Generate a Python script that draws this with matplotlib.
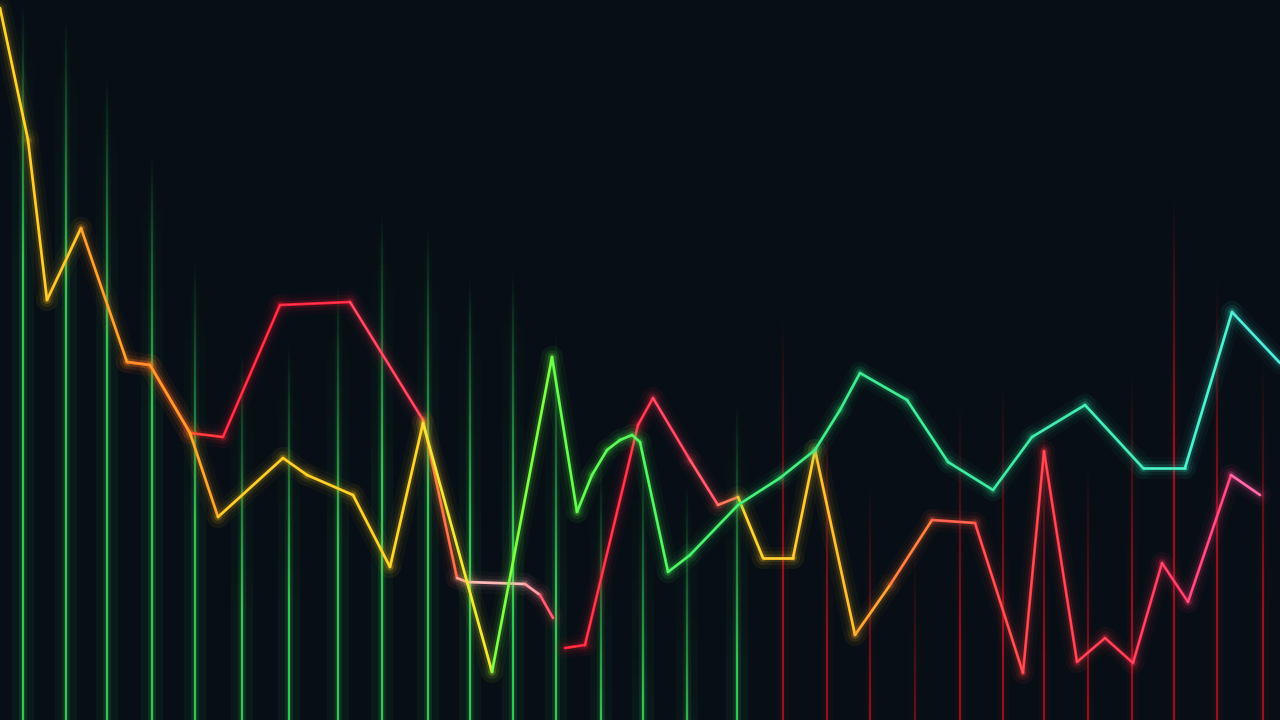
import numpy as np
import matplotlib
matplotlib.use("Agg")
import matplotlib.pyplot as plt
from matplotlib.collections import LineCollection
from matplotlib.colors import LinearSegmentedColormap, to_rgba

# vertical "volume" lines: x position and height of top
bar_x = [23, 66, 107, 152, 195, 242, 289, 338, 382, 428, 470, 513, 556, 601, 643, 687, 737,
         783, 827, 870, 915, 960, 1003, 1044, 1088, 1132, 1174, 1217, 1263]
bar_top = [720, 705, 645, 570, 460, 370, 380, 440, 510, 495, 447, 453, 390, 260, 280, 240, 320,
           410, 330, 250, 180, 330, 350, 320, 270, 360, 535, 450, 370]
bar_up = [True] * 17 + [False] * 12

# line 1: yellow -> green -> cyan
a_x = [0, 28, 47, 81, 127, 150, 190, 218, 283, 307, 353, 390, 423, 492, 552, 577, 592, 607, 620,
       632, 640, 668, 690, 738, 780, 815, 840, 860, 907, 948, 993, 1032, 1085, 1143, 1185, 1232, 1280]
a_v = [712, 580, 420, 492, 358, 355, 287, 203, 262, 245, 225, 153, 297, 48, 363, 208, 245, 270, 280,
       285, 278, 148, 165, 215, 242, 270, 310, 347, 320, 258, 230, 283, 315, 252, 252, 408, 357]

# line 2: red, left part
b_x = [127, 150, 190, 223, 280, 350, 423, 457, 467, 525, 540, 553]
b_v = [358, 355, 287, 283, 415, 418, 300, 142, 138, 136, 125, 102]

# line 3: red -> yellow -> red
c_x = [565, 585, 638, 653, 690, 718, 738, 763, 793, 815, 855, 890, 932, 975, 1023, 1044, 1077,
       1105, 1133, 1162, 1188, 1231, 1260]
c_v = [72, 75, 295, 322, 260, 215, 223, 162, 162, 270, 85, 135, 200, 197, 47, 269, 58, 82, 57,
       157, 118, 245, 225]

BG = '#070e15'


def stops_cmap(stops):
    lo, hi = stops[0][0], stops[-1][0]
    return LinearSegmentedColormap.from_list(
        'g', [((s - lo) / (hi - lo), c) for s, c in stops]), lo, hi


def glow_line(ax, xs, vs, stops, lw=2.0):
    cmap, lo, hi = stops_cmap(stops)
    xs = np.asarray(xs, float)
    vs = np.asarray(vs, float)
    pts = np.column_stack([xs, vs])
    segs = np.stack([pts[:-1], pts[1:]], axis=1)
    mid = (xs[:-1] + xs[1:]) / 2
    cols = cmap(np.clip((mid - lo) / (hi - lo), 0, 1))
    # soft glow layers
    for w, a in [(16, 0.035), (10, 0.06), (5.5, 0.13)]:
        c = cols.copy()
        c[:, 3] = a
        ax.add_collection(LineCollection(segs, colors=c, linewidths=w,
                                         capstyle='round', joinstyle='round'))
    ax.add_collection(LineCollection(segs, colors=cols, linewidths=lw,
                                     capstyle='round', joinstyle='round'))
    # thin bright core
    core = cols.copy()
    core[:, :3] = core[:, :3] * 0.6 + 0.4
    core[:, 3] = 0.35
    ax.add_collection(LineCollection(segs, colors=core, linewidths=lw * 0.4,
                                     capstyle='round'))


fig = plt.figure(figsize=(12.8, 7.2), dpi=100, facecolor=BG)
ax = fig.add_axes([0, 0, 1, 1])
ax.set_facecolor(BG)
ax.set_xlim(0, 1280)
ax.set_ylim(0, 720)
ax.axis('off')

# vertical lines fading towards the top
ys = np.linspace(0, 720, 145)
for x, top, up in zip(bar_x, bar_top, bar_up):
    base = to_rgba('#3ad45a' if up else '#b8121e')
    yy = ys[ys <= top]
    if len(yy) < 2:
        continue
    segs = [[(x, yy[i]), (x, yy[i + 1])] for i in range(len(yy) - 1)]
    ym = (yy[:-1] + yy[1:]) / 2
    fade = np.clip((top - ym) / 260.0, 0, 1) ** 1.1
    layers = [(16, 0.05), (6, 0.12), (1.7, 0.9)] if up else [(8, 0.06), (1.6, 0.8)]
    for w, a in layers:
        c = np.tile(base, (len(ym), 1))
        c[:, 3] = fade * a
        ax.add_collection(LineCollection(segs, colors=c, linewidths=w))

glow_line(ax, b_x, b_v, [(127, '#ff6a2a'), (190, '#ff3a30'), (223, '#ff1c34'),
                         (350, '#ff1c3a'), (410, '#ff4a66'), (440, '#ff5a3a'),
                         (470, '#ffb0b0'), (525, '#ffb8b8'), (553, '#ff3a50')])
glow_line(ax, c_x, c_v, [(565, '#ff1c30'), (650, '#ff2a44'), (690, '#ff4a6a'),
                         (725, '#ff5a50'), (745, '#ffd020'), (815, '#ffc422'),
                         (860, '#ffaa22'), (905, '#ff7a30'), (950, '#ff5a40'),
                         (1010, '#ff3a40'), (1120, '#ff3048'), (1200, '#ff3068'),
                         (1260, '#ff6ab0')])
glow_line(ax, a_x, a_v, [(0, '#ffd21a'), (60, '#ffc21a'), (100, '#ff9a1c'), (140, '#ff801c'),
                         (200, '#ffa01a'), (240, '#ffc81a'), (420, '#ffd21a'),
                         (470, '#e8ee28'), (530, '#60ff3a'), (700, '#3cf060'),
                         (860, '#30e888'), (1030, '#30e8a0'), (1232, '#40f0d0'),
                         (1280, '#40e6e0')])

fig.savefig('out.png', dpi=100, facecolor=BG)
